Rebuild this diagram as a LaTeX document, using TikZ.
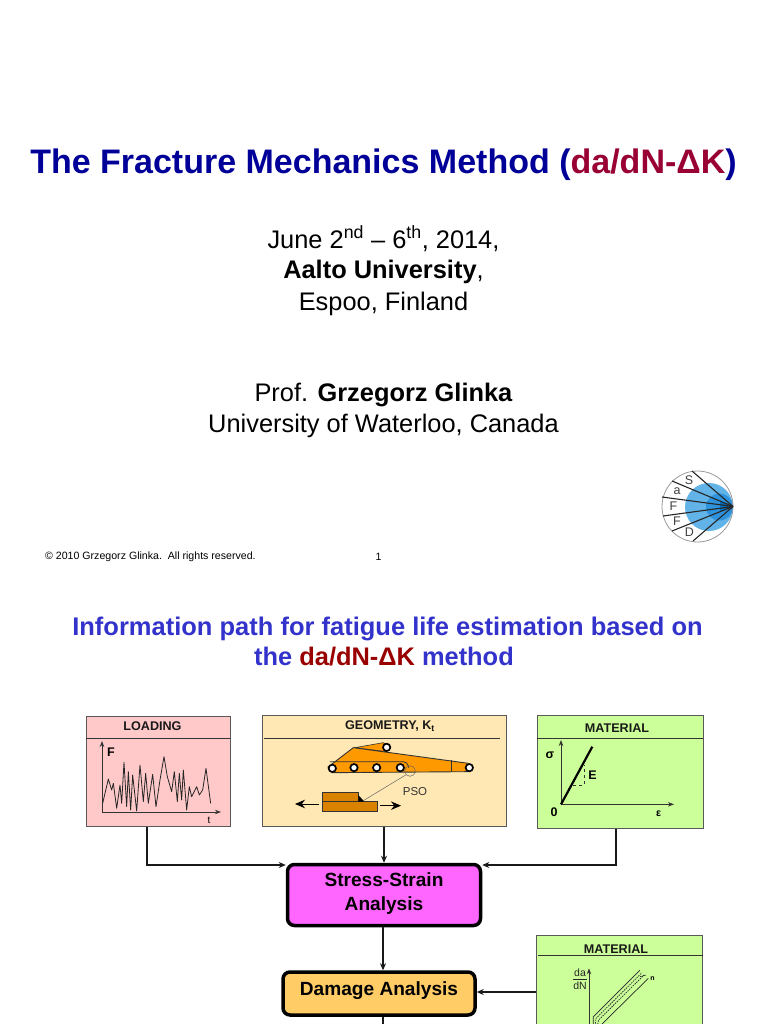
\documentclass[tikz,border=0pt]{standalone}
\usepackage{fontspec}
\setmainfont{Liberation Sans}
\usetikzlibrary{positioning,arrows.meta}

\definecolor{titleblue}{HTML}{000099}
\definecolor{titlered}{HTML}{990033}
\definecolor{headblue}{HTML}{3333CC}
\definecolor{headred}{HTML}{990000}
\definecolor{loadpink}{HTML}{FFC9C9}
\definecolor{geomtan}{HTML}{FFE8B3}
\definecolor{matgreen}{HTML}{CCFF99}
\definecolor{stressmag}{HTML}{FF66FF}
\definecolor{damageor}{HTML}{FFCC66}
\definecolor{boomor}{HTML}{FF9900}
\definecolor{blockor}{HTML}{D98200}
\definecolor{logolight}{HTML}{62B4E8}
\definecolor{logomid}{HTML}{2E92DC}
\definecolor{logodark}{HTML}{0070C0}

\tikzset{
  linetext/.style={font=\fontsize{25.4}{26}\selectfont,inner sep=0pt,anchor=center,text height=18pt,text depth=5pt},
  panel/.style={draw=black!65,line width=1.2pt,inner sep=0pt,anchor=north west},
  paneltitle/.style={font=\fontsize{12.6}{13}\selectfont\bfseries,inner sep=0pt,text=black!90},
  plotlabel/.style={font=\fontsize{12.5}{13}\selectfont\bfseries,inner sep=0pt},
  stage/.style={draw=black,line width=3.5pt,rounded corners=7pt,inner sep=0pt,align=center,
    font=\fontsize{19.1}{23.5}\selectfont\bfseries,anchor=north west},
  link/.style={-{Stealth[length=7pt,width=6pt]},line width=1.4pt,draw=black!90},
  axis/.style={-{Stealth[length=6pt,width=4.5pt]},line width=0.9pt,draw=black!80},
  force/.style={-{Stealth[length=10pt,width=8.5pt]},line width=0.9pt,draw=black},
  logoletter/.style={font=\fontsize{12.5}{13}\selectfont,inner sep=0pt,text=black!75},
}

\begin{document}
\begin{tikzpicture}[x=1pt,y=-1pt,node distance=31pt,on grid]
    \useasboundingbox (0,0) rectangle (768,1024);

    % first slide
    \node[inner sep=0pt,font=\fontsize{34}{34}\selectfont\bfseries,text=titleblue] (title) at (383.5,164.5)
        {The Fracture Mechanics Method (\textcolor{titlered}{da/dN-ΔK})};
    \node[linetext] (dates) at (383.5,241.5) {June 2\textsuperscript{nd} – 6\textsuperscript{th}, 2014,};
    \node[linetext] (aalto) [below=30pt of dates] {\textbf{Aalto University},};
    \node[linetext] (espoo) [below=32pt of aalto] {Espoo, Finland};
    \node[linetext] (prof) [below=91pt of espoo] {Prof. \textbf{Grzegorz Glinka}};
    \node[linetext] (waterloo) [below=31pt of prof] {University of Waterloo, Canada};

    % logo
    \coordinate (focus) at (733,506.5);
    \fill[logolight] (709,507) circle (24);
    \fill[logomid] (719.5,507) circle (13.5);
    \draw[black!40,line width=0.8pt] (697.5,506.5) circle (35.5);
    \fill[logodark] (733,506.5) -- (720,501) -- (720,512) -- cycle;
    \foreach \px/\py in {692/471,672/481,662/497,663/516,672/531,693/541}
        \draw[black!85,line width=1.1pt] (\px,\py) -- (focus);
    \node[logoletter] (logos) at (689,480) {S};
    \node[logoletter] (logoa) at (677,491) {a};
    \node[logoletter] (logof) at (673.5,506) {F};
    \node[logoletter] (logog) at (677,521) {F};
    \node[logoletter] (logod) at (689.5,532) {D};

    \node[anchor=west,inner sep=0pt,font=\fontsize{10.6}{11}\selectfont] (copy) at (45,557)
        {© 2010 Grzegorz Glinka.\ \ All rights reserved.};
    \node[inner sep=0pt,font=\fontsize{10.6}{11}\selectfont] (page) at (378.5,557) {1};

    % second slide
    \node[inner sep=0pt,font=\fontsize{25.5}{26}\selectfont\bfseries,text=headblue] (head) at (387.5,628.5)
        {Information path for fatigue life estimation based on};
    \node[inner sep=0pt,font=\fontsize{25.4}{26}\selectfont\bfseries,text=headblue] (headb) at (384,656.5)
        {the \textcolor{headred}{da/dN-ΔK} method};

    \node[panel,fill=loadpink,minimum width=144pt,minimum height=110pt] (loading) at (86,716) {};
    \node[panel,fill=geomtan,minimum width=244pt,minimum height=111pt] (geometry) at (262,715) {};
    \node[panel,fill=matgreen,minimum width=166pt,minimum height=113pt] (material) at (537,715) {};
    \node[panel,fill=matgreen,minimum width=166pt,minimum height=100pt] (fatigue) at (536,935) {};

    \node[paneltitle] (loadingtitle) at (152.5,726.5) {LOADING};
    \node[paneltitle] (geometrytitle) at (390,726) {GEOMETRY, K\textsubscript{t}};
    \node[paneltitle] (materialtitle) at (617,728.5) {MATERIAL};
    \node[paneltitle] (fatiguetitle) at (616,949) {MATERIAL};

    \draw[black!80,line width=0.9pt] (86,738) -- (230,738);
    \draw[black!80,line width=0.9pt] (264,738) -- (500,738);
    \draw[black!80,line width=0.9pt] (537,738) -- (703,738);
    \draw[black!80,line width=0.9pt] (538,955) -- (703,955);

    % loading history
    \draw[axis] (102,812) -- (102,741);
    \draw[axis] (102,812) -- (221,812);
    \node[plotlabel] (forcelabel) at (111,752) {F};
    \node[inner sep=0pt,font=\fontsize{10}{11}\selectfont] (timelabel) at (209,820) {t};
    \begin{scope}[shift={(80,705)},scale=0.3333]
        \draw[black!85,line width=0.8pt,line join=round] plot coordinates {(68,295) (85,222) (95,255) (100,235)
            (110,310) (120,240) (125,295) (132,172) (140,305) (145,200) (152,315) (158,210) (170,318)
            (180,180) (190,290) (197,205) (205,295) (218,208) (228,305) (240,225) (252,155) (262,215)
            (275,260) (283,200) (292,290) (298,205) (305,285) (310,195) (320,315) (328,245) (335,275)
            (350,245) (358,270) (368,255) (378,190) (392,295)};
    \end{scope}

    % boom and lap joint
    \begin{scope}[shift={(255,705)},scale=0.3333]
        \filldraw[fill=boomor,draw=black!80,line width=0.6pt] (300,128) -- (385,113) -- (405,125) -- (395,140) -- cycle;
        \fill[boomor] (218,187) -- (295,128) -- (640,175) -- (655,188) -- (640,200) -- (230,203) -- cycle;
        \draw[black!80,line width=0.9pt] (295,128) -- (640,175) (230,203) -- (640,200) (218,187) -- (295,128);
        \draw[black!80,line width=0.8pt] (225,170) -- (445,170) .. controls (455,172) .. (462,188);
        \draw[black!80,line width=0.7pt] (590,165) -- (590,200);
        \foreach \hx/\hy in {232/190,297/188,365/188,436/188,643/188,395/127}
            \filldraw[fill=white,draw=black,line width=1.7pt] (\hx,\hy) circle (11);
        \draw[black!60,line width=0.5pt] (465,198) circle (16);
        \filldraw[fill=blockor,draw=black!80,line width=0.8pt] (203,262) rectangle (310,290);
        \filldraw[fill=blockor,draw=black!80,line width=0.8pt] (203,290) rectangle (367,320);
        \fill[black] (310,270) -- (328,290) -- (310,290) -- cycle;
        \draw[black!60,line width=0.5pt] (452,210) -- (325,287);
        \draw[force] (192,297) -- (120,297);
        \draw[force] (375,302) -- (438,302);
    \end{scope}
    \node[inner sep=0pt,font=\fontsize{11.5}{12}\selectfont,text=black!80] (pso) at (415,791.5) {PSO};

    % stress strain curve
    \begin{scope}[shift={(530,705)},scale=0.3333]
        \draw[axis] (93,298) -- (93,105);
        \draw[axis] (93,298) -- (432,298);
        \draw[black,line width=2.2pt] (93,298) -- (187,125);
        \draw[black!80,dashed,line width=0.6pt] (130,241) -- (163,241) -- (163,180);
    \end{scope}
    \node[plotlabel] (sigmalabel) at (550,755) {σ};
    \node[plotlabel] (elabel) at (592.5,775.5) {E};
    \node[plotlabel] (zerolabel) at (554,812.5) {0};
    \node[plotlabel,font=\fontsize{10.5}{11}\selectfont\bfseries] (epslabel) at (658.5,814) {ε};

    % crack growth curve
    \begin{scope}[shift={(520,925)},scale=0.3333]
        \draw[axis] (207,310) -- (207,130);
        \draw[black!85,line width=0.7pt] (220,300) -- (220,275) -- (360,135);
        \draw[black!85,line width=0.7pt] (243,300) -- (385,160);
        \draw[black!80,dashed,line width=0.8pt,dash pattern=on 1.5pt off 1pt] (226,296) -- (228,280) -- (366,143);
        \draw[black!80,dashed,line width=0.8pt,dash pattern=on 1.5pt off 1pt] (233,298) -- (236,285) -- (372,150);
        \draw[black!85,line width=0.6pt] (360,155) -- (378,150);
    \end{scope}
    \node[inner sep=0pt,font=\fontsize{10.5}{12.5}\selectfont,align=center,text=black!85] (dadn) at (580,979) {da\\dN};
    \draw[black!85,line width=0.5pt] (573,979.5) -- (587,979.5);
    \node[inner sep=0pt,font=\fontsize{7}{8}\selectfont\bfseries] (nlabel) at (652.5,978.5) {n};

    % analysis stages
    \node[stage,fill=stressmag,minimum width=193pt,minimum height=61pt] (stress) at (285.75,862.75)
        {Stress-Strain\\Analysis\\[-17pt]\mbox{}};
    \node[stage,fill=damageor,minimum width=192pt,minimum height=43pt] (damage) at (281.25,970.25)
        {Damage Analysis\\[-14pt]\mbox{}};
    \coordinate (pageend) at (383,1030);

    \draw[link] (loading.south -| 147,0) |- (stress.west |- 0,865);
    \draw[link] (geometry.south -| 384,0) -- (stress.north -| 384,0);
    \draw[link] (material.south -| 616,0) |- (stress.east |- 0,865);
    \draw[link] (stress.south -| 383,0) -- (damage.north -| 383,0);
    \draw[link] (fatigue.west |- 0,992) -- (damage.east |- 0,992);
    \draw[line width=1.4pt,black!90] (damage.south -| 383,0) -- (pageend);
\end{tikzpicture}
\end{document}
